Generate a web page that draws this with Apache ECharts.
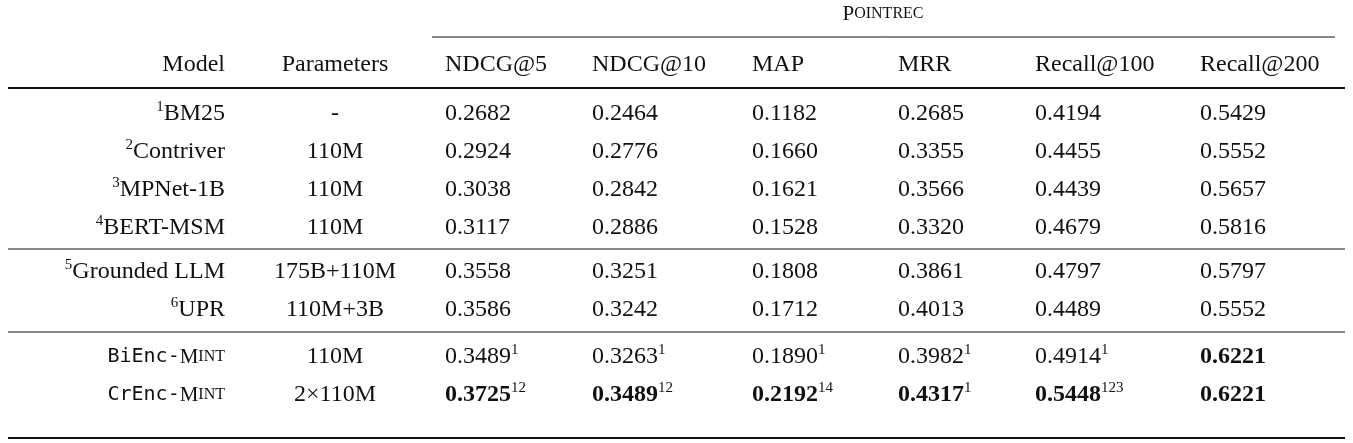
<!DOCTYPE html>
<html>
<head>
<meta charset="utf-8">
<script src="https://cdn.jsdelivr.net/npm/echarts@6/dist/echarts.min.js"></script>
<style>html,body{margin:0;background:#fff}</style>
</head>
<body>
<div id="main" style="width:1353px;height:443px;"></div>
<script>
var models = ['BM25', 'Contriver', 'MPNet-1B', 'BERT-MSM', 'Grounded LLM', 'UPR', 'BiEnc', 'CrEnc'];
var modelSup = ['1', '2', '3', '4', '5', '6', '', ''];
var params = ['-', '110M', '110M', '110M', '175B+110M', '110M+3B', '110M', '2\u00d7110M'];
var metrics = ['NDCG@5', 'NDCG@10', 'MAP', 'MRR', 'Recall@100', 'Recall@200'];
var values = [
  ['0.2682', '0.2464', '0.1182', '0.2685', '0.4194', '0.5429'],
  ['0.2924', '0.2776', '0.1660', '0.3355', '0.4455', '0.5552'],
  ['0.3038', '0.2842', '0.1621', '0.3566', '0.4439', '0.5657'],
  ['0.3117', '0.2886', '0.1528', '0.3320', '0.4679', '0.5816'],
  ['0.3558', '0.3251', '0.1808', '0.3861', '0.4797', '0.5797'],
  ['0.3586', '0.3242', '0.1712', '0.4013', '0.4489', '0.5552'],
  ['0.3489', '0.3263', '0.1890', '0.3982', '0.4914', '0.6221'],
  ['0.3725', '0.3489', '0.2192', '0.4317', '0.5448', '0.6221']
];
var sups = [
  ['', '', '', '', '', ''], ['', '', '', '', '', ''], ['', '', '', '', '', ''], ['', '', '', '', '', ''],
  ['', '', '', '', '', ''], ['', '', '', '', '', ''],
  ['1', '1', '1', '1', '1', ''],
  ['12', '12', '14', '1', '123', '']
];
var bold = [
  [0,0,0,0,0,0],[0,0,0,0,0,0],[0,0,0,0,0,0],[0,0,0,0,0,0],[0,0,0,0,0,0],[0,0,0,0,0,0],
  [0,0,0,0,0,1],
  [1,1,1,1,1,1]
];

var serif = '"Liberation Serif", "DejaVu Serif", serif';
var mono = '"DejaVu Sans Mono", "Liberation Mono", monospace';
var fs = 24;
var colX = [445, 592, 752, 898, 1035, 1200];
var rowY = [114, 152, 190, 228, 272, 310, 357, 395];
var rich = {
  n: {fontFamily: serif, fontSize: fs, lineHeight: 28, fill: '#111'},
  b: {fontFamily: serif, fontSize: fs, fontWeight: 'bold', lineHeight: 28, fill: '#111'},
  s: {fontFamily: serif, fontSize: 15, lineHeight: 28, padding: [0, 0, 13, 0], fill: '#111'},
  m: {fontFamily: mono, fontSize: 20, lineHeight: 28, fill: '#111'},
  sc: {fontFamily: serif, fontSize: 21, lineHeight: 28, fill: '#111'},
  sc2: {fontFamily: serif, fontSize: 16, lineHeight: 28, fill: '#111'}
};
function txt(x, y, text, align) {
  return {type: 'text', x: x, y: y, style: {text: text, rich: rich, align: align || 'left', verticalAlign: 'middle'}};
}
function rule(x1, x2, y, w) {
  return {type: 'line', shape: {x1: x1, y1: y, x2: x2, y2: y}, style: {stroke: '#111', lineWidth: w}};
}
var els = [];
els.push(txt(883, 14, '{sc|P}{sc2|OINTREC}', 'center'));
els.push(rule(432, 1335, 37, 1));
els.push(txt(225, 65, '{n|Model}', 'right'));
els.push(txt(335, 65, '{n|Parameters}', 'center'));
metrics.forEach(function (m, j) { els.push(txt(colX[j], 65, '{n|' + m + '}')); });
els.push(rule(8, 1345, 88, 2));
els.push(rule(8, 1345, 249, 1));
els.push(rule(8, 1345, 332, 1));
els.push(rule(8, 1345, 438, 2));
models.forEach(function (m, i) {
  var label = i < 6 ? '{s|' + modelSup[i] + '}{n|' + m + '}' : '{m|' + m + '-}{sc|M}{sc2|INT}';
  els.push(txt(225, rowY[i], label, 'right'));
  els.push(txt(335, rowY[i], '{n|' + params[i] + '}', 'center'));
  values[i].forEach(function (v, j) {
    var t = '{' + (bold[i][j] ? 'b' : 'n') + '|' + v + '}';
    if (sups[i][j]) t += '{s|' + sups[i][j] + '}';
    els.push(txt(colX[j], rowY[i], t));
  });
});
var chart = echarts.init(document.getElementById('main'));
chart.setOption({backgroundColor: '#fff', graphic: {elements: els}});
</script>
</body>
</html>
